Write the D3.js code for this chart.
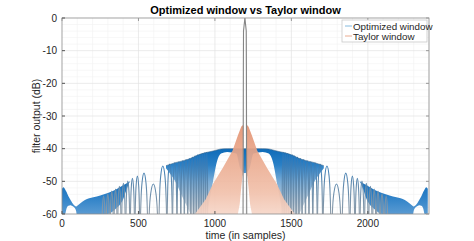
<!DOCTYPE html>
<html>
<head>
<meta charset="utf-8">
<script src="https://cdn.jsdelivr.net/npm/d3@7"></script>
<style>
  body { margin: 0; background: #fff; }
  svg { display: block; font-family: "Liberation Sans", Arial, sans-serif; }
</style>
</head>
<body>
<svg id="chart" width="474" height="241"></svg>
<script>
// x ticks / y ticks
const xTicks = [0, 500, 1000, 1500, 2000];
const yTicks = [0, -10, -20, -30, -40, -50, -60];

// optimized window: dense sidelobe band near the ends (left, right)
const optEndLT = [0, 10, 20, 30, 42, 55, 60, 75, 92, 96, 120, 150, 205, 250, 300, 350, 400, 430, 445];
const optEndLTop = [-52.3, -51.8, -52.4, -53.3, -54.6, -55.6, -56, -57.1, -57.7, -57.6, -56.7, -55.7, -54.9, -54.3, -53.6, -52.6, -51.2, -50.4, -50];
const optEndLBot = [-60, -60, -60, -58.3, -57.5, -57.3, -57.4, -57.8, -59, -60, -60, -60, -60, -60, -60, -58.5, -55.5, -51.5, -50];
const optEndRT = [2392, 2382, 2372, 2362, 2350, 2337, 2332, 2317, 2300, 2296, 2272, 2242, 2187, 2142, 2092, 2042, 1992, 1962, 1947];
const optEndRTop = [-52.3, -51.8, -52.4, -53.3, -54.6, -55.6, -56, -57.1, -57.7, -57.6, -56.7, -55.7, -54.9, -54.3, -53.6, -52.6, -51.2, -50.4, -50];
const optEndRBot = [-60, -60, -60, -58.3, -57.5, -57.3, -57.4, -57.8, -59, -60, -60, -60, -60, -60, -60, -58.5, -55.5, -51.5, -50];

// optimized window: dense band around the main lobe (plateau at -40 dB)
const optMidT = [680, 740, 800, 850, 880, 940, 980, 1013, 1040, 1080, 1140, 1165, 1196,
  1227, 1252, 1312, 1352, 1379, 1412, 1452, 1512, 1542, 1592, 1652, 1712];
const optMidTop = [-45.2, -44.3, -43.6, -42.8, -42.1, -41.2, -40.8, -40.4, -40.1, -40, -40, -40, -40,
  -40, -40, -40, -40.1, -40.4, -40.8, -41.2, -42.1, -42.8, -43.6, -44.3, -45.2];
const optMidBot = [-46, -50, -56, -60, -60, -60, -52, -44, -41.5, -41, -41.5, -46, -47.5,
  -46, -41.5, -41, -41.5, -44, -52, -60, -60, -60, -56, -50, -46];

// optimized window: separate sidelobe peaks (sample, dB)
const optLobeT = [272, 300, 326, 350, 375, 401, 430, 460, 492, 528, 597, 667, 706, 739, 765, 789, 811, 833, 852, 870, 887, 903, 918, 932, 946,
  1446, 1460, 1474, 1489, 1505, 1522, 1540, 1559, 1581, 1603, 1627, 1653, 1686, 1725, 1795, 1864, 1900, 1932, 1962, 1991, 2017, 2042, 2066, 2092, 2120];
const optLobeDb = [-54.5, -53.8, -53, -52.4, -51.5, -50.6, -49.9, -49.1, -48.4, -47.5, -50.8, -45.3, -44.7, -44.3, -44, -43.7, -43.3, -43, -42.6, -42.2, -41.9, -41.7, -41.5, -41.3, -41.1,
  -41.1, -41.3, -41.5, -41.7, -41.9, -42.2, -42.6, -43, -43.3, -43.7, -44, -44.3, -44.7, -45.3, -50.8, -47.5, -48.4, -49.1, -49.9, -50.6, -51.5, -52.4, -53, -53.8, -54.5];

// taylor window: sidelobe envelope either side of the main lobe
const taylorLT = [870, 940, 985, 1050, 1115, 1150, 1162, 1172, 1180, 1186];
const taylorLTop = [-60, -55.5, -51, -46, -40.6, -36, -34.5, -33.3, -32.8, -33];
const taylorLBot = [-60, -60, -60, -60, -60, -60, -57, -52, -48.5, -47.5];
const taylorRT = [1206, 1212, 1220, 1230, 1242, 1277, 1342, 1407, 1452, 1522];
const taylorRTop = [-33, -32.8, -33.3, -34.5, -36, -40.6, -46, -51, -55.5, -60];
const taylorRBot = [-47.5, -48.5, -52, -57, -60, -60, -60, -60, -60, -60];

// main lobe (both windows)
const mainT = [1183, 1185, 1186, 1187, 1196, 1205, 1206, 1207, 1209];
const mainDb = [-80, -40, -15, -4, 0, -4, -15, -40, -80];

const svg = d3.select('#chart');
const margin = { top: 18, right: 45, bottom: 27, left: 62 };
const width = 474 - margin.left - margin.right;
const height = 241 - margin.top - margin.bottom;

const x = d3.scaleLinear().domain([0, 2400]).range([0, width]);
const y = d3.scaleLinear().domain([-60, 0]).range([height, 0]);

const defs = svg.append('defs');
defs.append('clipPath').attr('id', 'clip')
  .append('rect').attr('width', width).attr('height', height);

const grad = (id, y1, y2, stops) => {
  const gr = defs.append('linearGradient').attr('id', id)
    .attr('gradientUnits', 'userSpaceOnUse')
    .attr('x1', 0).attr('x2', 0).attr('y1', y(y1)).attr('y2', y(y2));
  stops.forEach(s => gr.append('stop').attr('offset', s[0]).attr('stop-color', s[1]));
};
grad('gEnd', -50, -60, [[0, '#156fbc'], [0.5, '#2f82c8'], [1, '#5a9bd2']]);
grad('gMid', -40, -60, [[0, '#0e6bb8'], [0.25, '#2a80c6'], [0.5, '#78abd6'], [0.8, '#b3c5d5'], [1, '#d5dbe0']]);
grad('gLobe', -42, -60, [[0, '#2677bd'], [0.5, '#5f89ad'], [1, '#8d9ba8']]);
grad('gTay', -33, -60, [[0, '#e39271'], [0.35, '#eaa98d'], [0.75, '#f1c0aa'], [1, '#f6d6c8']]);

const g = svg.append('g').attr('transform', `translate(${margin.left},${margin.top})`);

// grid
const minorX = d3.range(0, 2401, 100).filter(d => d % 500);
const minorY = d3.range(-60, 1, 2).filter(d => d % 10);
g.append('g').selectAll('line').data(minorX).join('line')
  .attr('x1', d => x(d)).attr('x2', d => x(d)).attr('y1', 0).attr('y2', height)
  .attr('stroke', '#f1f1f1').attr('stroke-width', 0.6);
g.append('g').selectAll('line').data(minorY).join('line')
  .attr('y1', d => y(d)).attr('y2', d => y(d)).attr('x1', 0).attr('x2', width)
  .attr('stroke', '#f1f1f1').attr('stroke-width', 0.6);
g.append('g').selectAll('line').data(xTicks.slice(1)).join('line')
  .attr('x1', d => x(d)).attr('x2', d => x(d)).attr('y1', 0).attr('y2', height)
  .attr('stroke', '#e3e3e3').attr('stroke-width', 0.7);
g.append('g').selectAll('line').data(yTicks.slice(1, -1)).join('line')
  .attr('y1', d => y(d)).attr('y2', d => y(d)).attr('x1', 0).attr('x2', width)
  .attr('stroke', '#e3e3e3').attr('stroke-width', 0.7);

const plot = g.append('g').attr('clip-path', 'url(#clip)');

const band = (ts, top, bot, curve) => d3.area()
  .x((d, i) => x(ts[i]))
  .y0((d, i) => y(bot[i]))
  .y1((d, i) => y(top[i]))
  .curve(curve || d3.curveMonotoneX)(ts);

// optimized window
plot.append('path').attr('d', band(optEndLT, optEndLTop, optEndLBot)).attr('fill', 'url(#gEnd)');
plot.append('path').attr('d', band(optEndRT, optEndRTop, optEndRBot)).attr('fill', 'url(#gEnd)');
plot.append('path').attr('d', band(optMidT, optMidTop, optMidBot)).attr('fill', 'url(#gMid)');

// each sidelobe drawn as an arch between the nulls halfway to its neighbours
const lobeShape = [[0, -80], [0.05, -16], [0.12, -8.7], [0.25, -3], [0.5, 0], [0.75, -3], [0.88, -8.7], [0.95, -16], [1, -80]];
const archLine = d3.line().x(d => x(d[0])).y(d => y(d[1])).curve(d3.curveMonotoneX);
const lobes = optLobeT.map((t, i) => {
  const prev = optLobeT[i - 1] !== undefined && optLobeT[i - 1] > t - 120 ? optLobeT[i - 1] : t - (optLobeT[i + 1] - t);
  const next = optLobeT[i + 1] !== undefined && optLobeT[i + 1] < t + 120 ? optLobeT[i + 1] : t + (t - prev);
  const a = (prev + t) / 2;
  const b = (t + next) / 2;
  return lobeShape.map(s => [a + s[0] * (b - a), optLobeDb[i] + s[1]]);
});
plot.append('g').selectAll('path').data(lobes).join('path')
  .attr('d', archLine)
  .attr('fill', 'none')
  .attr('stroke', 'url(#gLobe)')
  .attr('stroke-width', 1.1);

// plateau edge
const flat = d3.line().x((d, i) => x(optMidT[i])).y((d, i) => y(optMidTop[i])).curve(d3.curveMonotoneX);
plot.append('path').attr('d', flat(optMidT))
  .attr('fill', 'none').attr('stroke', '#3a6286').attr('stroke-width', 0.7).attr('opacity', 0.8);

// taylor window
plot.append('path').attr('d', band(taylorLT, taylorLTop, taylorLBot, d3.curveLinear)).attr('fill', 'url(#gTay)').attr('opacity', 0.92);
plot.append('path').attr('d', band(taylorRT, taylorRTop, taylorRBot, d3.curveLinear)).attr('fill', 'url(#gTay)').attr('opacity', 0.92);

// main lobe
plot.append('path')
  .attr('d', d3.line().x((d, i) => x(mainT[i])).y((d, i) => y(mainDb[i]))(mainT))
  .attr('fill', 'none').attr('stroke', '#858585').attr('stroke-width', 1.1);

// axes box
const tickLen = 3;
g.append('rect').attr('width', width).attr('height', height)
  .attr('fill', 'none').attr('stroke', '#8c8c8c').attr('stroke-width', 0.8);
g.append('g').selectAll('line').data(xTicks).join('line')
  .attr('x1', d => x(d)).attr('x2', d => x(d)).attr('y1', height).attr('y2', height - tickLen)
  .attr('stroke', '#555');
g.append('g').selectAll('line').data(xTicks).join('line')
  .attr('x1', d => x(d)).attr('x2', d => x(d)).attr('y1', 0).attr('y2', tickLen)
  .attr('stroke', '#999');
g.append('g').selectAll('line').data(yTicks).join('line')
  .attr('y1', d => y(d)).attr('y2', d => y(d)).attr('x1', 0).attr('x2', tickLen)
  .attr('stroke', '#555');
g.append('g').selectAll('line').data(yTicks).join('line')
  .attr('y1', d => y(d)).attr('y2', d => y(d)).attr('x1', width).attr('x2', width - tickLen)
  .attr('stroke', '#999');

g.append('g').selectAll('text').data(xTicks).join('text')
  .attr('x', d => x(d)).attr('y', height + 13)
  .attr('text-anchor', 'middle').attr('font-size', 10).attr('fill', '#262626')
  .text(d => d);
g.append('g').selectAll('text').data(yTicks).join('text')
  .attr('x', -5).attr('y', d => y(d) + 3.5)
  .attr('text-anchor', 'end').attr('font-size', 10).attr('fill', '#262626')
  .text(d => d);

g.append('text').attr('x', width / 2).attr('y', height + 25)
  .attr('text-anchor', 'middle').attr('font-size', 10.5).attr('fill', '#262626')
  .text('time (in samples)');
g.append('text').attr('transform', `translate(-22,${height / 2}) rotate(-90)`)
  .attr('text-anchor', 'middle').attr('font-size', 10.5).attr('fill', '#262626')
  .text('filter output (dB)');
g.append('text').attr('x', width / 2).attr('y', -4)
  .attr('text-anchor', 'middle').attr('font-size', 11).attr('font-weight', 'bold').attr('fill', '#000')
  .text('Optimized window vs Taylor window');

// legend
const legend = g.append('g').attr('transform', `translate(${width - 87},2)`);
legend.append('rect').attr('width', 85).attr('height', 22)
  .attr('fill', '#fff').attr('stroke', '#c8c8c8').attr('stroke-width', 0.8);
const items = [['Optimized window', '#0072BD'], ['Taylor window', '#D95319']];
items.forEach((it, i) => {
  legend.append('line').attr('x1', 3).attr('x2', 10).attr('y1', 6 + i * 10).attr('y2', 6 + i * 10)
    .attr('stroke', it[1]).attr('stroke-width', 0.8).attr('opacity', 0.6);
  legend.append('text').attr('x', 11).attr('y', 9.5 + i * 10)
    .attr('font-size', 9.8).attr('fill', '#262626').text(it[0]);
});
</script>
</body>
</html>
